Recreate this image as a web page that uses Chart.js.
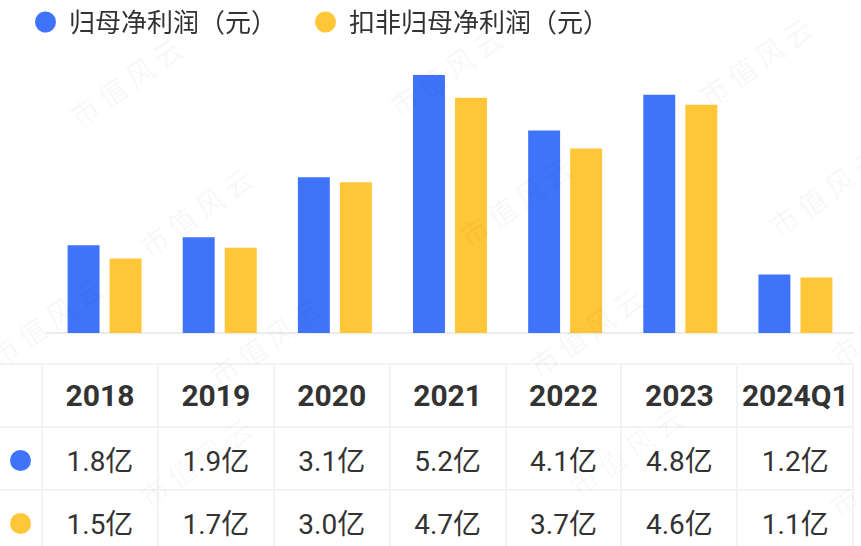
<!DOCTYPE html>
<html><head><meta charset="utf-8">
<script src="https://cdn.jsdelivr.net/npm/chart.js@4"></script>
<style>
html,body{margin:0;padding:0;background:#fff;width:861px;height:546px;overflow:hidden;font-family:Roboto,"Noto Sans CJK SC",sans-serif;}
#wrap{position:absolute;left:0;top:0;width:861px;height:352px;}
table{position:absolute;left:0;top:363px;border-collapse:collapse;table-layout:fixed;}
td{border:2px solid #f3f3f3;height:61px;text-align:center;color:#333;font-size:28px;padding:0;font-family:Roboto,"Noto Sans CJK SC",sans-serif;}
tr:first-child td{font-weight:bold;font-size:30px;}
td:first-child{border-left:none;}
.dot{display:inline-block;width:21px;height:21px;border-radius:50%;vertical-align:middle;}
.wm{position:absolute;color:rgba(0,0,0,0.03);font-size:28px;font-family:"Noto Sans CJK SC";transform:rotate(-35deg);white-space:nowrap;pointer-events:none;letter-spacing:6px;}
</style></head>
<body>
<div id="wrap"><canvas id="c"></canvas></div>
<table id="t"></table>
<div class="wm" style="left:60px;top:60px;">市值风云</div>
<div class="wm" style="left:380px;top:50px;">市值风云</div>
<div class="wm" style="left:690px;top:40px;">市值风云</div>
<div class="wm" style="left:130px;top:190px;">市值风云</div>
<div class="wm" style="left:450px;top:180px;">市值风云</div>
<div class="wm" style="left:760px;top:170px;">市值风云</div>
<div class="wm" style="left:-20px;top:300px;">市值风云</div>
<div class="wm" style="left:200px;top:320px;">市值风云</div>
<div class="wm" style="left:520px;top:310px;">市值风云</div>
<div class="wm" style="left:820px;top:300px;">市值风云</div>
<div class="wm" style="left:130px;top:440px;">市值风云</div>
<div class="wm" style="left:560px;top:430px;">市值风云</div>
<div class="wm" style="left:820px;top:450px;">市值风云</div>
<script>
const categories = ["2018","2019","2020","2021","2022","2023","2024Q1"];
const seriesNames = ["归母净利润（元）","扣非归母净利润（元）"];
const netProfit = [1.77,1.93,3.14,5.2,4.08,4.8,1.18];
const netProfitDeducted = [1.5,1.72,3.04,4.74,3.72,4.6,1.12];
const colors = ["#3F73FA","#FFC638"];
const unit = "亿";

new Chart(document.getElementById('c'), {
  type: 'bar',
  data: {
    labels: categories,
    datasets: [
      {label: seriesNames[0], data: netProfit, backgroundColor: colors[0], borderWidth:0},
      {label: seriesNames[1], data: netProfitDeducted, backgroundColor: colors[1], borderWidth:0}
    ]
  },
  options: {
    responsive:true, maintainAspectRatio:false, animation:false,
    layout:{padding:{left:-3,right:8,top:-29,bottom:19}},
    datasets:{bar:{categoryPercentage:0.73,barPercentage:0.76}},
    plugins:{
      tooltip:{enabled:false},
      legend:{
        position:'top', align:'start',
        labels:{usePointStyle:true,pointStyle:'circle',pointStyleWidth:21,boxWidth:21,boxHeight:15,padding:38,color:'#333',
          font:{size:26,family:'"Noto Sans CJK SC",Roboto,sans-serif'}}
      }
    },
    scales:{
      x:{grid:{display:false,drawTicks:false},border:{display:true,color:'#ececec',width:2},ticks:{display:false}},
      y:{display:true,min:0,max:5.2,grid:{display:false,drawTicks:false},border:{display:false},ticks:{display:false},
        afterFit(s){s.width=50;}}
    }
  },
  plugins:[{id:'legendH',beforeInit(chart){const lg=chart.legend;const fit=lg.fit;lg.fit=function(){fit.call(lg);lg.height=104;};}}]
});

// data table
const t = document.getElementById('t');
const widths = [42].concat(categories.map(()=>115.9));
let html = '<colgroup>' + widths.map(w=>'<col style="width:'+w+'px">').join('') + '</colgroup>';
html += '<tr><td></td>' + categories.map(c=>'<td>'+c+'</td>').join('') + '</tr>';
[netProfit, netProfitDeducted].forEach((arr,i)=>{
  html += '<tr><td><span class="dot" style="background:'+colors[i]+'"></span></td>' +
    arr.map(v=>'<td>'+v.toFixed(1)+unit+'</td>').join('') + '</tr>';
});
t.innerHTML = html;
</script>
</body></html>
